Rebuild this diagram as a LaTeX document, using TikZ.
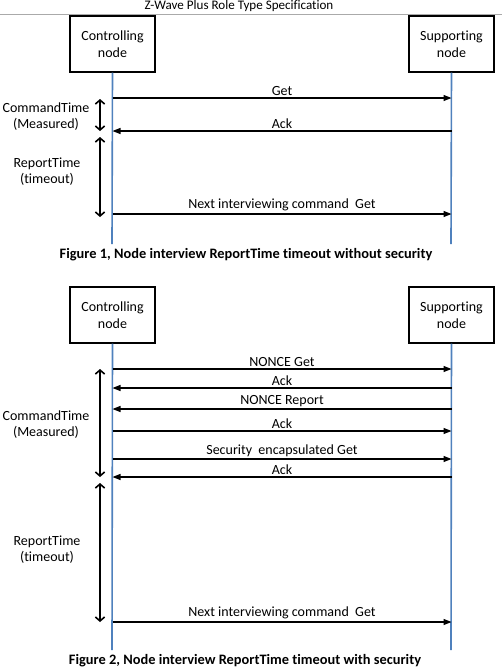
\documentclass[tikz,border=0pt]{standalone}
\usepackage{fontspec}
\setmainfont{Carlito}[Ligatures=NoCommon]
\usetikzlibrary{arrows.meta}
\definecolor{lifeblue}{RGB}{79,129,189}
\definecolor{rulegray}{RGB}{170,170,170}

\begin{document}
\begin{tikzpicture}[x=0.75pt, y=-0.75pt,
  actor/.style={draw, line width=0.9pt, minimum width=63.75pt, minimum height=42pt,
                align=center, inner sep=0pt, font=\fontsize{10.5}{12.75}\selectfont},
  life/.style={draw=lifeblue, line width=1.2pt},
  msg/.style={-{Triangle[length=6pt, width=4.5pt]}, line width=1pt},
  span/.style={{Straight Barb[length=3pt, width=7pt]}-{Straight Barb[length=3pt, width=7pt]}, line width=1.2pt},
  lbl/.style={font=\fontsize{10.5}{12}\selectfont, midway, above, inner sep=1.5pt},
  side/.style={font=\fontsize{10.5}{12}\selectfont, align=center},
  caption/.style={font=\fontsize{10.8}{12}\selectfont\bfseries}
]
  \useasboundingbox (0,0) rectangle (502,672);

  % page header
  \node[font=\fontsize{9.8}{10}\selectfont] (header) at (239,6) {Z-Wave Plus Role Type Specification};
  \draw[rulegray, line width=1pt] (0,14.5) -- (502,14.5);

  % Figure 1
  \node[actor] (ctrlA) at (112.5,44) {Controlling\\node};
  \node[actor] (suppA) at (451.5,44) {Supporting\\node};
  \coordinate (ctrlAend) at (112,244);
  \coordinate (suppAend) at (451,244);
  \draw[life] (ctrlA.south) -- (ctrlAend);
  \draw[life] (suppA.south) -- (suppAend);

  \draw[msg] (ctrlA.south |- 0,98)  -- node[lbl] {Get} (suppA.south |- 0,98);
  \draw[msg] (suppA.south |- 0,131) -- node[lbl] {Ack} (ctrlA.south |- 0,131);
  \draw[msg] (ctrlA.south |- 0,214) -- node[lbl] {Next interviewing command~~Get} (suppA.south |- 0,214);

  \coordinate (cmdAtop) at (100,99);
  \coordinate (cmdAbot) at (100,131);
  \coordinate (repAtop) at (100,137);
  \coordinate (repAbot) at (100,217);
  \draw[span] (cmdAtop) -- (cmdAbot);
  \draw[span] (repAtop) -- (repAbot);
  \node[side] (cmdAtext) at (46,117) {CommandTime\\(Measured)};
  \node[side] (repAtext) at (47,172) {ReportTime\\(timeout)};

  \node[caption] (capA) at (246,255) {Figure 1, Node interview ReportTime timeout without security};

  % Figure 2
  \node[actor] (ctrlB) at (112.5,315) {Controlling\\node};
  \node[actor] (suppB) at (451.5,315) {Supporting\\node};
  \coordinate (ctrlBend) at (112,650);
  \coordinate (suppBend) at (451,650);
  \draw[life] (ctrlB.south) -- (ctrlBend);
  \draw[life] (suppB.south) -- (suppBend);

  \draw[msg] (ctrlB.south |- 0,369) -- node[lbl] {NONCE Get} (suppB.south |- 0,369);
  \draw[msg] (suppB.south |- 0,388) -- node[lbl] {Ack} (ctrlB.south |- 0,388);
  \draw[msg] (suppB.south |- 0,409) -- node[lbl] {NONCE Report} (ctrlB.south |- 0,409);
  \draw[msg] (ctrlB.south |- 0,431) -- node[lbl] {Ack} (suppB.south |- 0,431);
  \draw[msg] (ctrlB.south |- 0,459) -- node[lbl] {Security~~encapsulated Get} (suppB.south |- 0,459);
  \draw[msg] (suppB.south |- 0,477) -- node[lbl] {Ack} (ctrlB.south |- 0,477);
  \draw[msg] (ctrlB.south |- 0,622) -- node[lbl] {Next interviewing command~~Get} (suppB.south |- 0,622);

  \coordinate (cmdBtop) at (100,369);
  \coordinate (cmdBbot) at (100,477);
  \coordinate (repBtop) at (100,483);
  \coordinate (repBbot) at (100,622);
  \draw[span] (cmdBtop) -- (cmdBbot);
  \draw[span] (repBtop) -- (repBbot);
  \node[side] (cmdBtext) at (46,425) {CommandTime\\(Measured)};
  \node[side] (repBtext) at (47,550) {ReportTime\\(timeout)};

  \node[caption] (capB) at (245,661) {Figure 2, Node interview ReportTime timeout with security};
\end{tikzpicture}
\end{document}
